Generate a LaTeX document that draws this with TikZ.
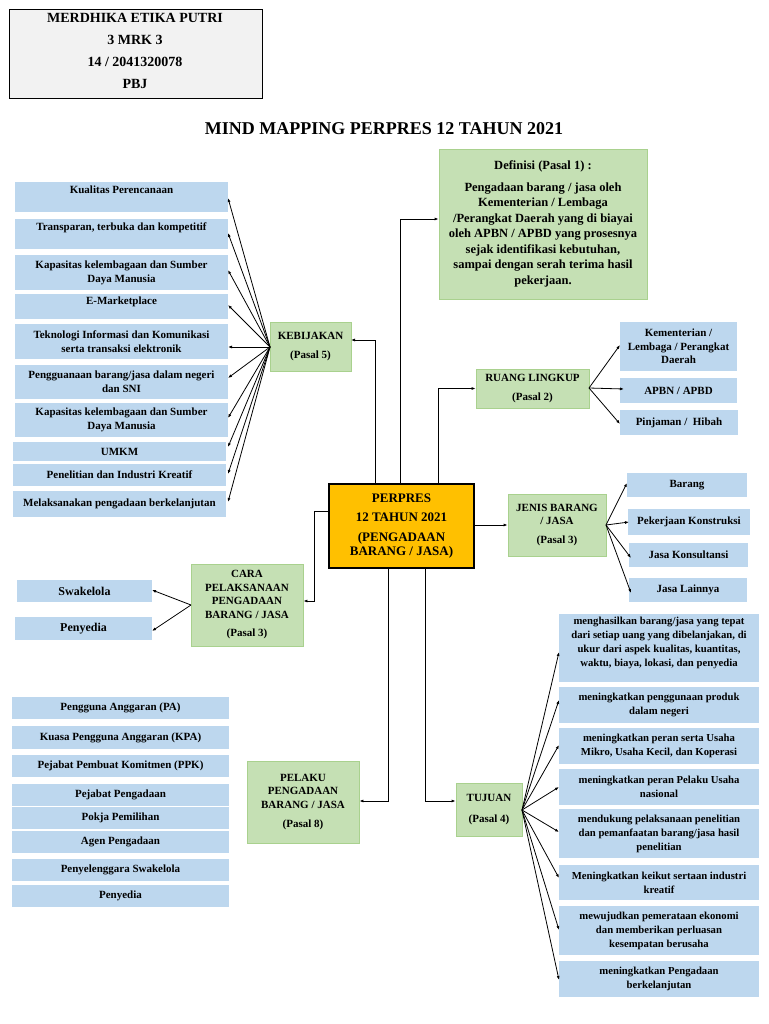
\documentclass[tikz,border=0pt]{standalone}
\usepackage{fontspec}
\setmainfont{Liberation Serif}
\usetikzlibrary{arrows.meta}
\definecolor{bl}{HTML}{BDD7EE}
\definecolor{gr}{HTML}{C5E0B4}
\definecolor{grb}{HTML}{A9D18E}
\definecolor{org}{HTML}{FFC000}
\begin{document}
\begin{tikzpicture}[x=1pt,y=-1pt,
 box/.style={draw=none,fill=bl,inner sep=1pt,align=center,font=\fontsize{11}{13.5}\selectfont\bfseries},
 kbox/.style={box,font=\fontsize{11}{14}\selectfont\bfseries},
 pbox/.style={box,font=\fontsize{11}{13}\selectfont\bfseries},
 cbox/.style={box,font=\fontsize{12}{14}\selectfont\bfseries},
 tbox/.style={box,font=\fontsize{10.7}{14}\selectfont\bfseries},
 gbox/.style={draw=grb,line width=0.8pt,fill=gr,inner sep=1pt,align=center,font=\fontsize{11}{13.5}\selectfont\bfseries},
 dbox/.style={gbox,font=\fontsize{12.5}{15.5}\selectfont\bfseries},
 ar/.style={-{Latex[length=4pt,width=3pt]},line width=0.8pt},
 hd/.style={font=\fontsize{14}{17}\selectfont\bfseries}]
\useasboundingbox (0,0) rectangle (768,1024);
\newcommand\bx[6]{\node[#1,minimum width={#4-#2},minimum height={#5-#3}] (#6) at ({(#2+#4)/2},{(#3+#5)/2})}
% header
\draw[line width=0.8pt,fill=white!95!black] (9,9) rectangle (262,98);
\node[hd] (h1) at (135,18) {MERDHIKA ETIKA PUTRI};
\node[hd] (h2) at (135,40) {3 MRK 3};
\node[hd] (h3) at (135,62) {14 / 2041320078};
\node[hd] (h4) at (135,84) {PBJ};
\node[font=\fontsize{18}{20}\selectfont\bfseries] (title) at (384,129) {MIND MAPPING PERPRES 12 TAHUN 2021};
% definisi
\bx{dbox}{439}{149}{647}{299}{def} {Definisi (Pasal 1) :\\[6pt]Pengadaan barang / jasa oleh\\Kementerian / Lembaga\\/Perangkat Daerah yang di biayai\\oleh APBN / APBD yang prosesnya\\sejak identifikasi kebutuhan,\\sampai dengan serah terima hasil\\pekerjaan.};
% center
\node[draw,line width=1.2pt,fill=org,minimum width=145,minimum height=84,align=center,font=\fontsize{13}{19.5}\selectfont\bfseries] (pp) at (401.5,526) {PERPRES\\12 TAHUN 2021\\(PENGADAAN\\[-5pt]BARANG / JASA)};
% kebijakan
\bx{gbox}{270}{322}{351}{371}{keb} {KEBIJAKAN\\[5pt](Pasal 5)};
\bx{kbox}{15}{182}{228}{212}{k1} {Kualitas Perencanaan\\[1pt]};
\bx{kbox}{15}{219}{228}{249}{k2} {Transparan, terbuka dan kompetitif\\[1pt]};
\bx{kbox}{15}{255}{228}{290}{k3} {Kapasitas kelembagaan dan Sumber\\Daya Manusia};
\bx{kbox}{15}{294}{228}{319}{k4} {E-Marketplace\\[-3pt]};
\bx{kbox}{15}{324}{228}{359}{k5} {Teknologi Informasi dan Komunikasi\\serta transaksi elektronik};
\bx{kbox}{15}{365}{228}{399}{k6} {Pengguanaan barang/jasa dalam negeri\\dan SNI};
\bx{kbox}{15}{403}{228}{437}{k7} {Kapasitas kelembagaan dan Sumber\\Daya Manusia};
\bx{kbox}{13}{442}{226}{461}{k8} {UMKM};
\bx{kbox}{13}{464}{226}{486}{k9} {Penelitian dan Industri Kreatif};
\bx{kbox}{13}{491}{226}{517}{k10} {Melaksanakan pengadaan berkelanjutan};
\coordinate (kc) at (270,347);
\foreach \n/\y in {k1/198,k2/233,k3/270,k4/305,k5/347,k6/378,k7/418,k8/447,k9/474,k10/502}
  \draw[ar] (kc) -- (228,\y);
% ruang lingkup
\bx{gbox}{476}{369}{589}{408}{rl} {RUANG LINGKUP\\[5pt](Pasal 2)};
\bx{box}{620}{322}{737}{371}{r1} {Kementerian /\\Lembaga / Perangkat\\Daerah};
\bx{box}{620}{378}{737}{403}{r2} {APBN / APBD};
\bx{box}{620}{410}{738}{435}{r3} {Pinjaman /\ \ Hibah};
\coordinate (rc) at (589,388);
\draw[ar] (rc) -- (620,345);
\draw[ar] (rc) -- (624,389);
\draw[ar] (rc) -- (620,424);
% jenis
\bx{gbox}{508}{494}{606}{556}{jb} {JENIS BARANG\\/ JASA\\[5pt](Pasal 3)};
\bx{box}{627}{473}{747}{497}{j1} {Barang};
\bx{box}{628}{509}{750}{535}{j2} {Pekerjaan Konstruksi};
\bx{box}{629}{543}{748}{567}{j3} {Jasa Konsultansi};
\bx{box}{629}{578}{747}{602}{j4} {Jasa Lainnya};
\coordinate (jc) at (606,525);
\draw[ar] (jc) -- (627,483);
\draw[ar] (jc) -- (629,522);
\draw[ar] (jc) -- (631,558);
\draw[ar] (jc) -- (631,593);
% cara
\bx{gbox}{191}{564}{303}{646}{cp} {CARA\\PELAKSANAAN\\PENGADAAN\\BARANG / JASA\\[5pt](Pasal 3)};
\bx{cbox}{17}{580}{152}{602}{c1} {Swakelola};
\bx{cbox}{15}{617}{152}{640}{c2} {Penyedia};
\draw[ar] (191,605) -- (152,590);
\draw[ar] (191,605) -- (152,631);
% pelaku
\bx{gbox}{247}{761}{359}{843}{pl} {PELAKU\\PENGADAAN\\BARANG / JASA\\[6pt](Pasal 8)};
\foreach \n/\a/\b/\t in {p1/697/719/Pengguna Anggaran (PA),p2/726/749/Kuasa Pengguna Anggaran (KPA),p3/755/777/Pejabat Pembuat Komitmen (PPK),p4/784/806/Pejabat Pengadaan,p5/807/829/Pokja Pemilihan,p6/831/853/Agen Pengadaan,p7/859/881/Penyelenggara Swakelola,p8/885/907/Penyedia}
  \bx{pbox}{12}{\a}{229}{\b}{\n} {\t};
% tujuan
\bx{gbox}{456}{783}{522}{836}{tj} {TUJUAN\\[8pt](Pasal 4)};
\bx{tbox}{559}{614}{759}{682}{t1} {menghasilkan barang/jasa yang tepat\\dari setiap uang yang dibelanjakan, di\\ukur dari aspek kualitas, kuantitas,\\waktu, biaya, lokasi, dan penyedia\\[-2pt]};
\bx{tbox}{559}{687}{759}{723}{t2} {meningkatkan penggunaan produk\\dalam negeri};
\bx{tbox}{559}{728}{759}{764}{t3} {meningkatkan peran serta Usaha\\Mikro, Usaha Kecil, dan Koperasi};
\bx{tbox}{559}{769}{759}{805}{t4} {meningkatkan peran Pelaku Usaha\\nasional};
\bx{tbox}{559}{809}{759}{858}{t5} {mendukung pelaksanaan penelitian\\dan pemanfaatan barang/jasa hasil\\penelitian};
\bx{tbox}{559}{865}{759}{900}{t6} {Meningkatkan keikut sertaan industri\\kreatif};
\bx{tbox}{559}{906}{759}{955}{t7} {mewujudkan pemerataan ekonomi\\dan memberikan perluasan\\kesempatan berusaha};
\bx{tbox}{559}{961}{759}{997}{t8} {meningkatkan Pengadaan\\berkelanjutan};
\coordinate (tc) at (522,810);
\foreach \y in {652,700,745,787,832,878,930,980}
  \draw[ar] (tc) -- (559,\y);
% main connectors
\draw[ar] (pp.north -| 375,0) |- (351,340);
\draw[ar] (pp.north -| 400,0) |- (def.west |- 0,219);
\draw[ar] (pp.north -| 438,0) |- (rl.west);
\draw[ar] (pp.east |- 0,525) -- (jb.west |- 0,525);
\draw[ar] (329,511) -- (314,511) |- (cp.east |- 0,601);
\draw[ar] (pp.south -| 388,0) |- (pl.east |- 0,801);
\draw[ar] (pp.south -| 425,0) |- (tj.west |- 0,801);
\end{tikzpicture}
\end{document}
